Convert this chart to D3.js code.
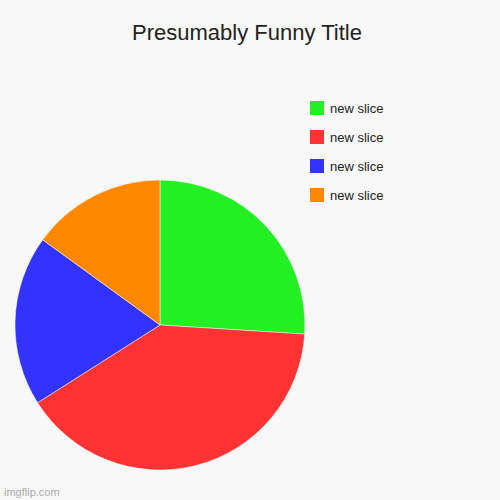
<!DOCTYPE html>
<html><head><meta charset="utf-8">
<script src="https://cdn.jsdelivr.net/npm/d3@7"></script>
<style>body{margin:0;background:#f8f8f8}</style>
</head><body>
<script>
const labels = ['new slice', 'new slice', 'new slice', 'new slice'];
const values = [26, 40, 19, 15];
const colors = ['#22f022', '#ff3333', '#3333ff', '#ff8800'];

const svg = d3.select('body').append('svg').attr('width', 500).attr('height', 500)
  .style('font-family', 'Liberation Sans, Arial, sans-serif');
svg.append('rect').attr('width', 500).attr('height', 500).attr('fill', '#f8f8f8');

svg.append('text').attr('x', 247).attr('y', 40).attr('text-anchor', 'middle')
  .attr('font-size', 22).attr('fill', '#222').text('Presumably Funny Title');

const pie = d3.pie().sort(null)(values);
const arc = d3.arc().innerRadius(0).outerRadius(145);
const g = svg.append('g').attr('transform', 'translate(160,325)');
g.selectAll('path').data(pie).join('path')
  .attr('d', arc).attr('fill', (d, i) => colors[i]).attr('stroke', '#fff').attr('stroke-width', 0.5);

// legend (reverse order, green on top)
const lg = svg.append('g').attr('transform', 'translate(310,101)');
const items = lg.selectAll('g').data(labels.map((l, i) => i)).join('g')
  .attr('transform', (d, k) => `translate(0,${k * 29})`);
items.append('rect').attr('width', 14).attr('height', 14).attr('fill', d => colors[d]);
items.append('text').attr('x', 20).attr('y', 12).attr('font-size', 13).attr('fill', '#222').text(d => labels[d]);

svg.append('text').attr('x', 4).attr('y', 496).attr('font-size', 11).attr('fill', '#aaa').text('imgflip.com');
</script>
</body></html>
